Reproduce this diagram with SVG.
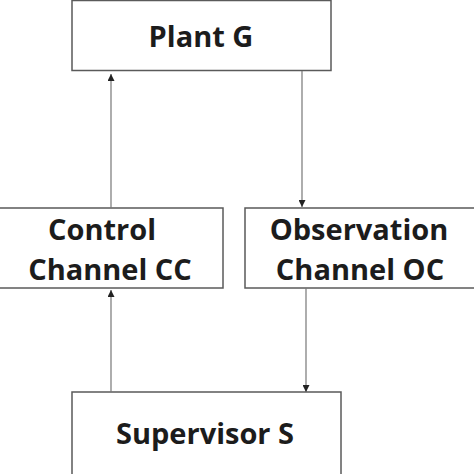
<svg xmlns="http://www.w3.org/2000/svg" width="474" height="474" viewBox="0 0 474 474">
<style>
.box{fill:#fff;stroke:#5a5a5a;stroke-width:1.5}
.lbl{font-family:"Open Sans","Liberation Sans",sans-serif;font-weight:700;font-size:29px;fill:#1c1c1c;text-anchor:middle}
.con{stroke:#777;stroke-width:1.2;fill:none}
</style>
<defs>
<marker id="ah" viewBox="0 0 10 10" refX="10" refY="5" markerWidth="7" markerHeight="7" markerUnits="userSpaceOnUse" orient="auto">
<path d="M0,0 L10,5 L0,10 Z" fill="#222"/>
</marker>
</defs>
<rect width="474" height="474" fill="#fff"/>
<g id="plant"><rect class="box" x="72" y="0.5" width="259" height="70"/><text class="lbl" x="201" y="47">Plant G</text></g>
<g id="cc"><rect class="box" x="-1" y="208" width="224" height="80"/><text class="lbl" x="102" y="240">Control</text><text class="lbl" x="110" y="280">Channel CC</text></g>
<g id="oc"><rect class="box" x="245" y="208" width="231" height="80"/><text class="lbl" x="359" y="240">Observation</text><text class="lbl" x="360" y="280">Channel OC</text></g>
<g id="sup"><rect class="box" x="72" y="392" width="269" height="84"/><text class="lbl" x="205" y="444">Supervisor S</text></g>
<g id="connectors">
<line class="con" x1="111" y1="208" x2="111" y2="74" marker-end="url(#ah)"/>
<line class="con" x1="302" y1="71" x2="302" y2="207" marker-end="url(#ah)"/>
<line class="con" x1="111" y1="392" x2="111" y2="290" marker-end="url(#ah)"/>
<line class="con" x1="306" y1="288" x2="306" y2="392" marker-end="url(#ah)"/>
</g>
</svg>
